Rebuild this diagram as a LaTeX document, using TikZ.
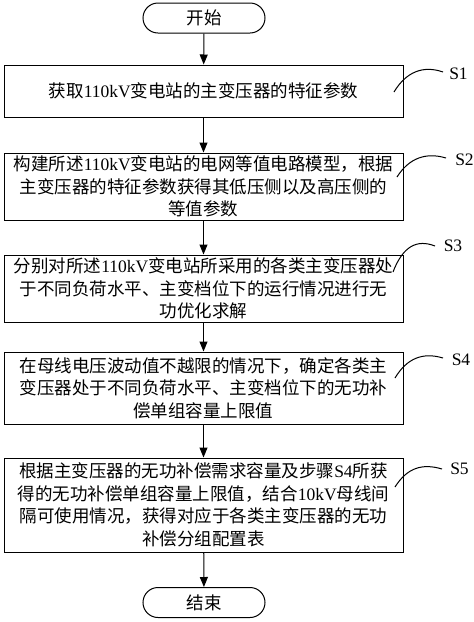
\documentclass[tikz,border=0pt]{standalone}
\usepackage{fontspec}
\setmainfont{Liberation Serif}
\newfontfamily\cjk{Noto Sans CJK SC}
\usetikzlibrary{arrows.meta}
\newcommand\lt[1]{{\rmfamily #1}}
\tikzset{
  term/.style={draw, line width=1pt, rounded corners=15pt, minimum width=122pt, minimum height=30pt, inner sep=0pt, font=\cjk\fontsize{17.5}{20}\selectfont},
  stepbox/.style={draw, line width=1pt, minimum width=399pt, inner sep=0pt, align=center, font=\cjk\fontsize{17.5}{22.5}\selectfont},
  flow/.style={line width=1pt, -{Triangle[length=10pt,width=8pt]}},
  lead/.style={line width=1pt},
  slab/.style={font=\rmfamily\fontsize{17.5}{20}\selectfont, inner sep=0pt}
}
\begin{document}
\begin{tikzpicture}[x=1pt,y=-1pt]
\useasboundingbox (0,0) rectangle (474,622);
\node[term] (start) at (204,18) {开始};
\node[stepbox, minimum height=52pt] (s1) at (203.5,91) {获取\lt{110kV}变电站的主变压器的特征参数};
\node[stepbox, minimum height=67pt] (s2) at (203.5,186.5) {构建所述\lt{110kV}变电站的电网等值电路模型，根据\\主变压器的特征参数获得其低压侧以及高压侧的\\等值参数};
\node[stepbox, minimum height=67pt] (s3) at (203.5,288.5) {分别对所述\lt{110kV}变电站所采用的各类主变压器处\\于不同负荷水平、主变档位下的运行情况进行无\\功优化求解};
\node[stepbox, minimum height=72pt] (s4) at (203.5,388) {在母线电压波动值不越限的情况下，确定各类主\\变压器处于不同负荷水平、主变档位下的无功补\\偿单组容量上限值};
\node[stepbox, minimum height=94pt] (s5) at (203.5,505) {根据主变压器的无功补偿需求容量及步骤\lt{S4}所获\\得的无功补偿单组容量上限值，结合\lt{10kV}母线间\\隔可使用情况，获得对应于各类主变压器的无功\\补偿分组配置表};
\node[term] (end) at (204,602.5) {结束};
\draw[flow] (start) -- (s1);
\draw[flow] (s1) -- (s2);
\draw[flow] (s2) -- (s3);
\draw[flow] (s3) -- (s4);
\draw[flow] (s4) -- (s5);
\draw[flow] (s5) -- (end);
% step labels
\node[slab] (l1) at (458.5,74) {S1};
\node[slab] (l2) at (464.5,160) {S2};
\node[slab] (l3) at (453,246) {S3};
\node[slab] (l4) at (461,360) {S4};
\node[slab] (l5) at (459.5,469) {S5};
\coordinate (a1) at (394,92);  \coordinate (b1) at (443,72);
\coordinate (a2) at (397,177); \coordinate (b2) at (446,158);
\coordinate (a3) at (393,272); \coordinate (b3) at (435,246);
\coordinate (a4) at (395,378); \coordinate (b4) at (443,358);
\coordinate (a5) at (395,487); \coordinate (b5) at (442,469);
\draw[lead] (a1) .. controls +(12,-20) and +(-20,-7) .. (b1);
\draw[lead] (a2) .. controls +(12,-19) and +(-20,-6) .. (b2);
\draw[lead] (a3) .. controls +(10,-26) and +(-18,-7) .. (b3);
\draw[lead] (a4) .. controls +(12,-20) and +(-20,-6) .. (b4);
\draw[lead] (a5) .. controls +(12,-19) and +(-20,-6) .. (b5);
\end{tikzpicture}
\end{document}
